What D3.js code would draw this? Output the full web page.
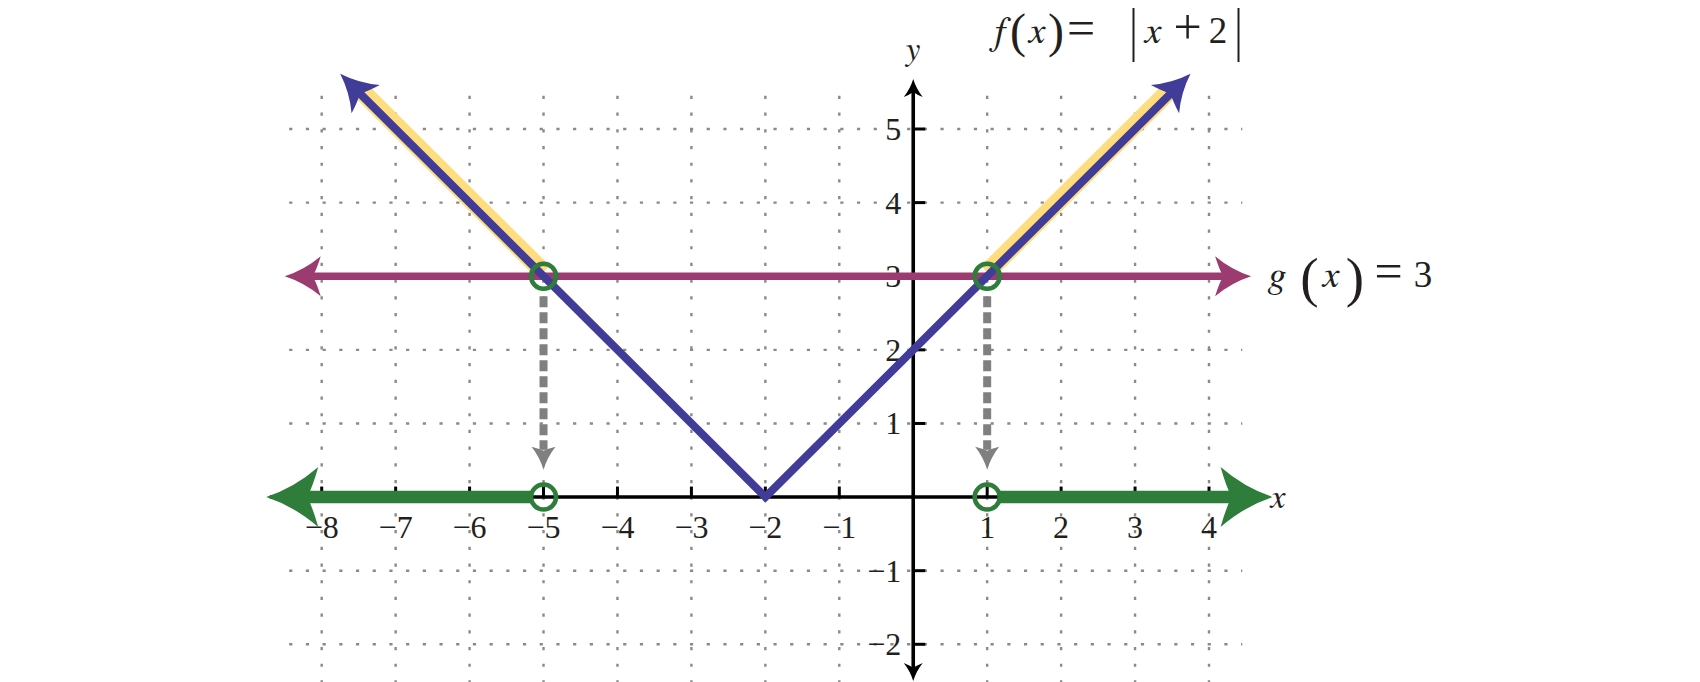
<!DOCTYPE html>
<html lang="en">
<head>
  <meta charset="utf-8" />
  <title>Solving |x+2| &gt; 3 graphically</title>
  <style type="text/css">
    html, body { margin: 0; padding: 0; background: #fff; }
    svg { display: block; }
  </style>
</head>
<body>
  <div id="graphic"></div>

  <script src="https://cdnjs.cloudflare.com/ajax/libs/d3/7.8.5/d3.min.js"></script>
  <script>
    // chart values
    var xTicks = [-8, -7, -6, -5, -4, -3, -2, -1, 1, 2, 3, 4];
    var yTicks = [-2, -1, 1, 2, 3, 4, 5];
    var fVertex = -2;                 // f(x) = |x + 2|
    var fEnds = [-7.75, 3.75];        // where the arrows of f stop
    var gValue = 3;                   // g(x) = 3
    var gEnds = [-8.5, 4.57];
    var solutions = [-5, 1];          // f(x) = g(x)
    var highlightEnds = [-7.45, 3.45];
    var answerRays = [[-8.75, -5], [1, 4.86]];
    var dropTo = 0.37;                // dashed arrows stop here

    var width = 1700, height = 682;
    var serif = "Liberation Serif, Times New Roman, serif";
    var italicSerif = "FreeSerif, Liberation Serif, serif";
    var ink = '#231f20';

    var svg = d3.select('#graphic').append('svg')
      .attr('width', width)
      .attr('height', height);

    var x = d3.scaleLinear().domain([-8, 4]).range([321.7, 1209]);
    var y = d3.scaleLinear().domain([-2, 5]).range([644.3, 129]);

    function f(v) { return Math.abs(v - fVertex); }

    // arrowhead with its tip at 0,0 pointing along +x
    function headPath(L, W, n) {
      return 'M0,0 Q' + (-L * 0.55) + ',' + (W * 0.32) + ' ' + (-L) + ',' + W +
        ' Q' + (-L + n * 0.5) + ',' + (W * 0.35) + ' ' + (-L + n) + ',0' +
        ' Q' + (-L + n * 0.5) + ',' + (-W * 0.35) + ' ' + (-L) + ',' + (-W) +
        ' Q' + (-L * 0.55) + ',' + (-W * 0.32) + ' 0,0Z';
    }

    function addHead(g, tip, from, L, W, n, colour) {
      var ang = Math.atan2(tip[1] - from[1], tip[0] - from[0]) * 180 / Math.PI;
      g.append('path')
        .attr('d', headPath(L, W, n))
        .attr('fill', colour)
        .attr('transform', 'translate(' + tip[0] + ',' + tip[1] + ') rotate(' + ang + ')');
    }

    // pull a point back towards another by d pixels
    function pullBack(tip, from, d) {
      var dx = tip[0] - from[0], dy = tip[1] - from[1];
      var len = Math.sqrt(dx * dx + dy * dy);
      return [tip[0] - dx / len * d, tip[1] - dy / len * d];
    }

    // dotted grid
    var grid = svg.append('g')
      .attr('stroke', '#8a8a8a')
      .attr('stroke-width', 2.4)
      .attr('stroke-dasharray', '3.2,13.5');

    grid.selectAll('line.v')
      .data(xTicks)
      .enter().append('line')
      .attr('class', 'v')
      .attr('x1', function(d) { return x(d); })
      .attr('x2', function(d) { return x(d); })
      .attr('y1', y(5.45))
      .attr('y2', height);

    grid.selectAll('line.h')
      .data(yTicks)
      .enter().append('line')
      .attr('class', 'h')
      .attr('x1', x(-8.44))
      .attr('x2', x(4.45))
      .attr('y1', function(d) { return y(d); })
      .attr('y2', function(d) { return y(d); });

    // tick labels
    var fmt = function(d) { return d < 0 ? '\u2212' + Math.abs(d) : String(d); };

    svg.append('g').selectAll('text')
      .data(xTicks)
      .enter().append('text')
      .attr('x', function(d) { return x(d); })
      .attr('y', y(0) + 41)
      .attr('text-anchor', 'middle')
      .style('font-family', serif)
      .style('font-size', '32px')
      .attr('fill', ink)
      .text(fmt);

    svg.append('g').selectAll('text')
      .data(yTicks)
      .enter().append('text')
      .attr('x', x(0) - 12)
      .attr('y', function(d) { return y(d) + 11; })
      .attr('text-anchor', 'end')
      .style('font-family', serif)
      .style('font-size', '32px')
      .attr('fill', ink)
      .text(fmt);

    // axes
    var axes = svg.append('g');
    axes.append('line')
      .attr('x1', x(-8.7)).attr('x2', x(4.7))
      .attr('y1', y(0)).attr('y2', y(0))
      .attr('stroke', '#000').attr('stroke-width', 3.6);

    var yTop = [x(0), 79], yBot = [x(0), 681];
    axes.append('line')
      .attr('x1', x(0)).attr('x2', x(0))
      .attr('y1', yTop[1] + 12).attr('y2', yBot[1] - 12)
      .attr('stroke', '#000').attr('stroke-width', 3.6);
    addHead(axes, yTop, yBot, 18, 9.5, 5, '#000');
    addHead(axes, yBot, yTop, 18, 9.5, 5, '#000');

    axes.selectAll('line.xt')
      .data(xTicks)
      .enter().append('line')
      .attr('class', 'xt')
      .attr('x1', function(d) { return x(d); })
      .attr('x2', function(d) { return x(d); })
      .attr('y1', y(0)).attr('y2', y(0) - 10.5)
      .attr('stroke', '#000').attr('stroke-width', 3);

    axes.selectAll('line.yt')
      .data(yTicks)
      .enter().append('line')
      .attr('class', 'yt')
      .attr('x1', x(0)).attr('x2', x(0) + 12)
      .attr('y1', function(d) { return y(d); })
      .attr('y2', function(d) { return y(d); })
      .attr('stroke', '#000').attr('stroke-width', 3);

    // yellow highlight where f(x) > g(x)
    var hl = svg.append('g').attr('transform', 'translate(0,-4)');
    var hlData = [[solutions[0], highlightEnds[0]], [solutions[1], highlightEnds[1]]];
    hl.selectAll('line')
      .data(hlData)
      .enter().append('line')
      .attr('x1', function(d) { return x(d[0]); })
      .attr('y1', function(d) { return y(f(d[0])); })
      .attr('x2', function(d) { return x(d[1]); })
      .attr('y2', function(d) { return y(f(d[1])); })
      .attr('stroke', '#ffdc7e')
      .attr('stroke-width', 18);

    // g(x) = 3
    var gLine = svg.append('g');
    var gL = [x(gEnds[0]), y(gValue)], gR = [x(gEnds[1]), y(gValue)];
    gLine.append('line')
      .attr('x1', gL[0] + 28).attr('x2', gR[0] - 28)
      .attr('y1', y(gValue)).attr('y2', y(gValue))
      .attr('stroke', '#9b3b6f').attr('stroke-width', 7.5);
    addHead(gLine, gL, gR, 36, 20, 8, '#9b3b6f');
    addHead(gLine, gR, gL, 36, 20, 8, '#9b3b6f');

    // f(x) = |x + 2|
    var fLine = svg.append('g');
    var fPts = [fEnds[0], fVertex, fEnds[1]].map(function(d) { return [x(d), y(f(d))]; });
    var fDraw = fPts.slice();
    fDraw[0] = pullBack(fPts[0], fPts[1], 27);
    fDraw[2] = pullBack(fPts[2], fPts[1], 27);
    fLine.append('path')
      .attr('d', d3.line()(fDraw))
      .attr('fill', 'none')
      .attr('stroke', '#403c97')
      .attr('stroke-width', 8)
      .attr('stroke-linejoin', 'miter');
    addHead(fLine, fPts[0], fPts[1], 36, 20, 8, '#403c97');
    addHead(fLine, fPts[2], fPts[1], 36, 20, 8, '#403c97');

    // solution set on the x axis
    var rad = 12.5;
    var green = '#2e7d3b';
    var sol = svg.append('g');
    var leftTip = [x(answerRays[0][0]), y(0)], rightTip = [x(answerRays[1][1]), y(0)];
    sol.append('line')
      .attr('x1', leftTip[0] + 40).attr('x2', x(answerRays[0][1]) - rad)
      .attr('y1', y(0)).attr('y2', y(0))
      .attr('stroke', green).attr('stroke-width', 12.5);
    sol.append('line')
      .attr('x1', x(answerRays[1][0]) + rad).attr('x2', rightTip[0] - 40)
      .attr('y1', y(0)).attr('y2', y(0))
      .attr('stroke', green).attr('stroke-width', 12.5);
    addHead(sol, leftTip, [leftTip[0] + 10, y(0)], 52, 30, 11, green);
    addHead(sol, rightTip, [rightTip[0] - 10, y(0)], 52, 30, 11, green);

    // dashed drops from the intersections
    var drops = svg.append('g');
    drops.selectAll('line')
      .data(solutions)
      .enter().append('line')
      .attr('x1', function(d) { return x(d); })
      .attr('x2', function(d) { return x(d); })
      .attr('y1', y(gValue) + 20)
      .attr('y2', y(dropTo) - 20)
      .attr('stroke', '#808080')
      .attr('stroke-width', 8)
      .attr('stroke-dasharray', '11,5');
    solutions.forEach(function(d) {
      addHead(drops, [x(d), y(dropTo)], [x(d), y(gValue)], 23, 12, 4, '#808080');
    });

    // open circles
    var circ = [];
    solutions.forEach(function(d) { circ.push([d, gValue]); circ.push([d, 0]); });
    svg.append('g').selectAll('circle')
      .data(circ)
      .enter().append('circle')
      .attr('cx', function(d) { return x(d[0]); })
      .attr('cy', function(d) { return y(d[1]); })
      .attr('r', rad)
      .attr('fill', 'none')
      .attr('stroke', green)
      .attr('stroke-width', 4.5);

    // text pieces, set one by one like the typeset original
    function piece(cx, base, txt, size, italic) {
      svg.append('text')
        .attr('x', cx).attr('y', base)
        .attr('text-anchor', 'middle')
        .style('font-family', italic ? italicSerif : serif)
        .style('font-size', size + 'px')
        .style('font-style', italic ? 'italic' : 'normal')
        .attr('fill', ink)
        .text(txt);
    }

    // axis names
    piece(912, 59.5, 'y', 33, true);
    piece(1278, 508, 'x', 34, true);

    // f(x) = |x + 2|
    piece(1000, 43, 'f', 38, true);
    piece(1018, 47, '(', 48, false);
    piece(1037, 43, 'x', 38, true);
    piece(1056, 47, ')', 48, false);
    piece(1081, 44.5, '=', 50, false);
    piece(1153, 43, 'x', 38, true);
    piece(1187.5, 44, '+', 50, false);
    piece(1218, 43, '2', 37, false);
    [1133.5, 1238.5].forEach(function(bx) {
      svg.append('line')
        .attr('x1', bx).attr('x2', bx)
        .attr('y1', 8).attr('y2', 62)
        .attr('stroke', ink).attr('stroke-width', 2);
    });

    // g(x) = 3
    piece(1277, 287, 'g', 38, true);
    piece(1309.5, 295.5, '(', 55, false);
    piece(1331, 287, 'x', 38, true);
    piece(1355, 295.5, ')', 55, false);
    piece(1388.5, 288, '=', 50, false);
    piece(1423, 287, '3', 37, false);
  </script>
</body>
</html>
